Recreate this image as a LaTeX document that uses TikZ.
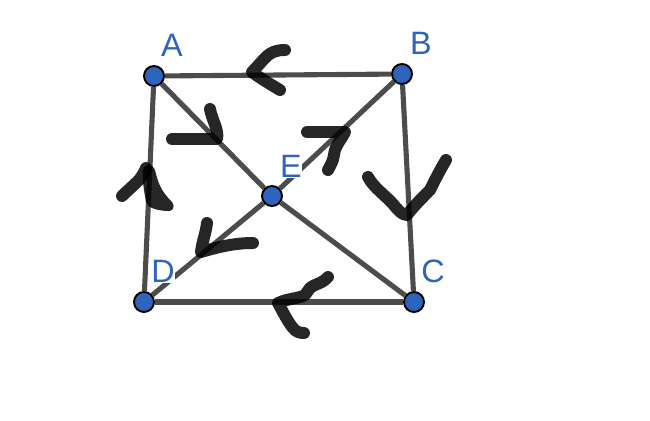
\documentclass[tikz,border=0pt]{standalone}
\usepackage{fontspec}
\setmainfont{Liberation Sans}
\definecolor{ptblue}{HTML}{2F64BC}
\tikzset{
  pt/.style={circle,draw=black,fill=ptblue,line width=0.55pt,inner sep=0pt,minimum size=0.2cm},
  lab/.style={text=ptblue,font=\fontsize{9.2}{10}\selectfont,fill=white,inner sep=0.2pt},
  edge/.style={line width=1.45pt,draw=black!70},
  ink/.style={line width=3.4pt,draw=black,opacity=.85,line cap=round,line join=round}
}
\begin{document}
\begin{tikzpicture}[x=0.01cm,y=-0.01cm]
            \useasboundingbox (0,0) rectangle (650,420);
            \node[pt] (a) at (154,76) {};
            \node[pt] (b) at (402,74) {};
            \node[pt] (c) at (414,302) {};
            \node[pt] (d) at (144,302) {};
            \node[pt] (e) at (272,196) {};
            \draw[edge] (a) -- (b);
            \draw[edge] (b) -- (c);
            \draw[edge] (c) -- (d);
            \draw[edge] (d) -- (a);
            \draw[edge] (a) -- (e);
            \draw[edge] (b) -- (e);
            \draw[edge] (e) -- (d);
            \draw[edge] (e) -- (c);
            \node[lab] (la) at (172,45) {A};
            \node[lab] (lb) at (421,43) {B};
            \node[lab] (lc) at (433,271) {C};
            \node[lab] (ld) at (163,271) {D};
            \node[lab] (le) at (291,166) {E};
            % hand drawn marks
            \draw[ink] (285,50) .. controls (268,50) and (266,58) .. (252,72) .. controls (260,78) and (270,84) .. (280,90);
            \draw[ink] (172,139) -- (217,139) .. controls (219,130) and (212,120) .. (210,109);
            \draw[ink] (122,196) -- (137,182) .. controls (143,176) and (145,170) .. (146,168);
            \fill[black,opacity=.85] (143,170) .. controls (145,163) and (152,163) .. (155,170) .. controls (158,182) and (160,190) .. (172,202) .. controls (176,208) and (172,212) .. (166,211) .. controls (156,210) and (148,208) .. (146,202) .. controls (144,190) and (142,180) .. (143,170) -- cycle;
            \draw[ink] (307,132) -- (345,132) .. controls (340,142) and (335,145) .. (334,155) .. controls (333,162) and (330,166) .. (328,170);
            \draw[ink] (368,177) .. controls (374,188) and (385,195) .. (393,204) .. controls (398,210) and (402,215) .. (407,215) .. controls (414,206) and (422,198) .. (430,190) .. controls (436,178) and (440,170) .. (446,160);
            \draw[ink] (207,223) .. controls (206,233) and (202,242) .. (201,252) .. controls (215,248) and (232,243) .. (253,243);
            \draw[ink] (328,277) .. controls (322,284) and (314,284) .. (310,288) .. controls (306,293) and (306,296) .. (300,297) .. controls (292,299) and (284,300) .. (278,303) .. controls (283,312) and (288,322) .. (293,328) .. controls (296,332) and (300,333) .. (304,333);
        \end{tikzpicture}
\end{document}
